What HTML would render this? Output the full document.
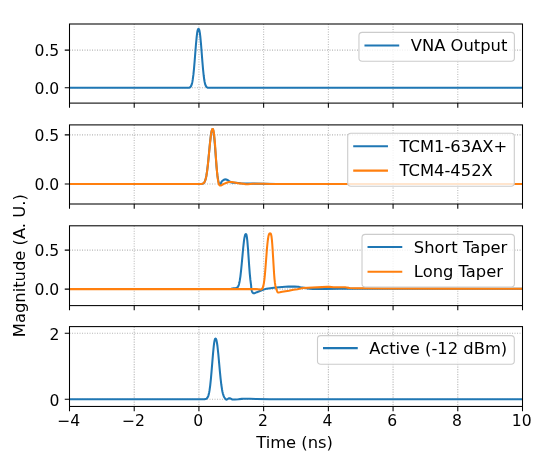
<!DOCTYPE html>
<html><head><meta charset="utf-8"><title>Pulse response plots</title>
<style>html,body{margin:0;padding:0;background:#fff;overflow:hidden;}svg{display:block;}</style>
</head><body>
<svg width="550" height="468" viewBox="0 0 550 468">
<rect width="550" height="468" fill="#fff"/>
<defs>
<clipPath id="c0"><rect x="69.5" y="24.0" width="453.00" height="79.10"/></clipPath>
<clipPath id="c1"><rect x="69.5" y="124.9" width="453.00" height="79.10"/></clipPath>
<clipPath id="c2"><rect x="69.5" y="225.8" width="453.00" height="79.80"/></clipPath>
<clipPath id="c3"><rect x="69.5" y="326.6" width="453.00" height="79.85"/></clipPath>
</defs>
<path d="M134.21 24.00V103.10M198.93 24.00V103.10M263.64 24.00V103.10M328.36 24.00V103.10M393.07 24.00V103.10M457.79 24.00V103.10M69.50 87.80H522.50M69.50 50.10H522.50" stroke="#b8b8b8" stroke-width="1.05" stroke-dasharray="1.05 1.45" fill="none"/>
<polyline points="53.32,87.80 186.34,87.80 188.51,87.75 189.12,87.66 189.64,87.51 190.19,87.19 190.65,86.75 191.07,86.11 191.45,85.25 191.81,84.18 192.17,82.78 192.49,81.17 192.81,79.20 193.40,74.70 194.01,68.61 194.59,61.76 195.95,44.50 196.73,36.30 197.18,32.80 197.60,30.56 197.80,29.85 198.02,29.29 198.25,28.98 198.51,28.88 198.77,28.98 198.99,29.28 199.22,29.85 199.41,30.55 199.83,32.82 200.26,36.06 201.03,44.24 202.42,62.02 203.04,69.23 203.69,75.51 204.30,80.04 204.66,82.03 205.01,83.61 205.40,84.92 205.79,85.88 206.21,86.60 206.69,87.13 207.24,87.47 207.96,87.68 209.09,87.78 211.48,87.80 538.68,87.80" fill="none" stroke="#1f77b4" stroke-width="2.05" stroke-linejoin="round" stroke-linecap="butt" clip-path="url(#c0)"/>
<rect x="358.95" y="32.40" width="155.45" height="28.80" rx="3.27" fill="#fff" fill-opacity="0.8" stroke="#cccccc" stroke-width="1.1"/>
<path d="M365.49 45.40H398.19" stroke="#1f77b4" stroke-width="2.05" stroke-linecap="square"/>
<text x="410.77" y="50.60" font-family="'DejaVu Sans', 'Liberation Sans', sans-serif" font-size="16.35" fill="#000">VNA Output</text>
<rect x="69.5" y="24.0" width="453.00" height="79.10" fill="none" stroke="#000" stroke-width="1.05"/>
<path d="M69.50 103.10v4.75M134.21 103.10v4.75M198.93 103.10v4.75M263.64 103.10v4.75M328.36 103.10v4.75M393.07 103.10v4.75M457.79 103.10v4.75M522.50 103.10v4.75M69.50 87.80h-4.75M69.50 50.10h-4.75" stroke="#000" stroke-width="1.05" fill="none"/>
<text transform="translate(59.3 94.18) scale(1.02 1)" text-anchor="end" font-family="'DejaVu Sans', 'Liberation Sans', sans-serif" font-size="15.3" fill="#000">0.0</text>
<text transform="translate(59.3 56.48) scale(1.02 1)" text-anchor="end" font-family="'DejaVu Sans', 'Liberation Sans', sans-serif" font-size="15.3" fill="#000">0.5</text>
<path d="M134.21 124.90V204.00M198.93 124.90V204.00M263.64 124.90V204.00M328.36 124.90V204.00M393.07 124.90V204.00M457.79 124.90V204.00M69.50 184.00H522.50M69.50 134.85H522.50" stroke="#b8b8b8" stroke-width="1.05" stroke-dasharray="1.05 1.45" fill="none"/>
<polyline points="53.32,184.00 198.70,184.00 201.29,183.94 202.03,183.85 202.65,183.70 203.30,183.39 203.85,182.93 204.33,182.31 204.79,181.48 205.21,180.44 205.63,179.07 206.01,177.47 206.37,175.69 207.05,171.39 207.76,165.60 208.44,159.05 209.99,142.85 210.80,135.79 211.26,132.82 211.71,130.70 211.94,129.99 212.16,129.50 212.39,129.23 212.62,129.15 212.81,129.24 213.00,129.56 213.20,130.12 213.36,130.80 213.72,132.92 214.10,136.18 214.82,144.18 216.53,166.57 217.02,171.73 217.50,175.88 218.05,179.38 218.34,180.76 218.63,181.87 218.96,182.82 219.28,183.52 219.70,184.15 219.90,184.35 220.03,184.40 220.28,184.29 220.54,183.96 221.58,181.79 222.00,181.18 223.10,180.31 223.91,179.79 224.65,179.48 225.33,179.38 225.82,179.42 226.37,179.56 227.89,180.20 228.34,180.50 229.51,181.46 230.93,182.24 231.51,182.42 233.07,182.62 235.78,182.82 240.67,183.27 243.10,183.41 276.59,184.00 538.68,184.00" fill="none" stroke="#1f77b4" stroke-width="2.05" stroke-linejoin="round" stroke-linecap="butt" clip-path="url(#c1)"/>
<polyline points="53.32,184.00 198.70,184.00 201.32,183.94 202.07,183.85 202.68,183.69 203.33,183.37 203.88,182.91 204.40,182.24 204.85,181.38 205.27,180.31 205.69,178.91 206.08,177.29 206.44,175.48 207.11,171.13 207.83,165.32 208.47,159.08 210.03,142.88 210.87,135.54 211.32,132.58 211.77,130.48 212.00,129.76 212.23,129.27 212.45,129.00 212.68,128.92 212.91,129.03 213.10,129.35 213.33,130.02 213.52,130.84 213.94,133.45 214.40,137.39 215.11,145.37 216.08,159.86 216.69,168.09 217.24,174.20 217.76,178.69 218.28,181.91 218.54,183.06 218.83,184.02 219.12,184.68 219.44,185.15 219.80,185.43 220.28,185.57 220.67,185.57 221.13,185.42 222.68,184.51 223.84,183.89 224.94,183.38 226.11,182.94 227.18,182.57 228.05,182.33 229.28,182.10 229.99,182.03 231.32,182.09 233.29,182.27 239.41,183.39 243.32,183.83 245.49,184.12 246.66,184.20 247.95,184.16 252.61,183.85 253.94,183.80 263.29,183.84 270.11,184.00 538.68,184.00" fill="none" stroke="#ff7f0e" stroke-width="2.05" stroke-linejoin="round" stroke-linecap="butt" clip-path="url(#c1)"/>
<rect x="347.70" y="133.30" width="166.60" height="53.00" rx="3.27" fill="#fff" fill-opacity="0.8" stroke="#cccccc" stroke-width="1.1"/>
<path d="M354.24 146.30H386.94" stroke="#1f77b4" stroke-width="2.05" stroke-linecap="square"/>
<text x="399.52" y="152.10" font-family="'DejaVu Sans', 'Liberation Sans', sans-serif" font-size="16.35" fill="#000">TCM1-63AX+</text>
<path d="M354.24 170.60H386.94" stroke="#ff7f0e" stroke-width="2.05" stroke-linecap="square"/>
<text x="399.52" y="175.70" font-family="'DejaVu Sans', 'Liberation Sans', sans-serif" font-size="16.35" fill="#000">TCM4-452X</text>
<rect x="69.5" y="124.9" width="453.00" height="79.10" fill="none" stroke="#000" stroke-width="1.05"/>
<path d="M69.50 204.00v4.75M134.21 204.00v4.75M198.93 204.00v4.75M263.64 204.00v4.75M328.36 204.00v4.75M393.07 204.00v4.75M457.79 204.00v4.75M522.50 204.00v4.75M69.50 184.00h-4.75M69.50 134.85h-4.75" stroke="#000" stroke-width="1.05" fill="none"/>
<text transform="translate(59.3 190.38) scale(1.02 1)" text-anchor="end" font-family="'DejaVu Sans', 'Liberation Sans', sans-serif" font-size="15.3" fill="#000">0.0</text>
<text transform="translate(59.3 141.23) scale(1.02 1)" text-anchor="end" font-family="'DejaVu Sans', 'Liberation Sans', sans-serif" font-size="15.3" fill="#000">0.5</text>
<path d="M134.21 225.80V305.60M198.93 225.80V305.60M263.64 225.80V305.60M328.36 225.80V305.60M393.07 225.80V305.60M457.79 225.80V305.60M69.50 289.10H522.50M69.50 250.10H522.50" stroke="#b8b8b8" stroke-width="1.05" stroke-dasharray="1.05 1.45" fill="none"/>
<polyline points="53.32,289.10 225.91,289.09 228.21,289.05 229.93,288.93 231.16,288.77 233.65,288.35 235.78,288.12 236.43,288.00 237.01,287.75 237.50,287.37 237.95,286.79 238.34,286.06 238.73,285.06 239.08,283.85 239.44,282.32 239.76,280.63 240.41,276.30 241.06,270.74 241.67,264.50 243.16,248.23 243.97,240.91 244.46,237.69 244.91,235.61 245.13,234.92 245.36,234.44 245.62,234.15 245.88,234.07 246.07,234.14 246.27,234.42 246.46,234.95 246.62,235.61 246.98,237.78 247.33,240.91 247.95,248.22 249.21,266.42 249.76,273.57 250.38,279.94 251.12,285.57 251.38,288.97 251.80,290.77 252.06,291.55 252.32,292.13 252.61,292.61 252.90,292.93 253.26,293.18 253.64,293.31 254.16,293.32 254.78,293.17 256.91,292.18 261.12,290.47 264.35,289.38 265.49,289.06 266.52,288.84 273.93,287.68 276.07,287.42 282.09,286.94 288.43,286.60 294.64,286.61 298.04,286.70 298.46,286.78 299.43,287.08 300.59,287.30 304.06,287.79 307.62,288.37 310.08,288.67 312.86,288.89 318.91,288.99 325.12,288.99 339.97,288.80 538.68,288.71" fill="none" stroke="#1f77b4" stroke-width="2.05" stroke-linejoin="round" stroke-linecap="butt" clip-path="url(#c2)"/>
<polyline points="53.32,289.10 256.04,289.10 258.17,289.17 260.31,289.53 260.70,289.53 261.05,289.48 261.54,289.28 261.99,288.93 262.38,288.45 262.74,287.78 263.06,286.93 263.35,285.90 263.90,283.11 264.42,279.29 264.97,273.89 265.49,267.75 266.94,248.94 267.40,244.00 267.82,240.25 268.33,236.85 268.59,235.64 268.85,234.74 269.11,234.11 269.40,233.67 269.73,233.44 270.15,233.38 270.47,233.43 270.73,233.65 270.96,234.09 271.15,234.71 271.54,236.79 271.93,240.16 272.25,243.99 272.57,248.66 274.09,273.70 274.51,279.05 274.94,282.98 275.39,285.74 276.26,288.99 276.88,290.68 277.30,291.68 277.65,292.27 277.94,292.49 278.79,292.46 279.82,292.32 282.22,291.85 288.95,290.69 293.35,289.83 297.55,289.19 299.40,288.72 300.72,288.46 303.22,288.09 307.75,287.75 322.02,287.11 327.35,286.80 329.49,286.86 333.53,287.20 335.22,287.29 345.31,287.31 346.35,287.41 348.84,287.87 349.94,288.00 355.73,288.22 362.53,288.32 384.56,288.45 448.18,288.63 538.68,288.71" fill="none" stroke="#ff7f0e" stroke-width="2.05" stroke-linejoin="round" stroke-linecap="butt" clip-path="url(#c2)"/>
<rect x="362.01" y="234.40" width="152.39" height="52.60" rx="3.27" fill="#fff" fill-opacity="0.8" stroke="#cccccc" stroke-width="1.1"/>
<path d="M368.55 247.00H401.25" stroke="#1f77b4" stroke-width="2.05" stroke-linecap="square"/>
<text x="413.83" y="252.80" font-family="'DejaVu Sans', 'Liberation Sans', sans-serif" font-size="16.35" fill="#000">Short Taper</text>
<path d="M368.55 271.70H401.25" stroke="#ff7f0e" stroke-width="2.05" stroke-linecap="square"/>
<text x="413.83" y="276.80" font-family="'DejaVu Sans', 'Liberation Sans', sans-serif" font-size="16.35" fill="#000">Long Taper</text>
<rect x="69.5" y="225.8" width="453.00" height="79.80" fill="none" stroke="#000" stroke-width="1.05"/>
<path d="M69.50 305.60v4.75M134.21 305.60v4.75M198.93 305.60v4.75M263.64 305.60v4.75M328.36 305.60v4.75M393.07 305.60v4.75M457.79 305.60v4.75M522.50 305.60v4.75M69.50 289.10h-4.75M69.50 250.10h-4.75" stroke="#000" stroke-width="1.05" fill="none"/>
<text transform="translate(59.3 295.48) scale(1.02 1)" text-anchor="end" font-family="'DejaVu Sans', 'Liberation Sans', sans-serif" font-size="15.3" fill="#000">0.0</text>
<text transform="translate(59.3 256.48) scale(1.02 1)" text-anchor="end" font-family="'DejaVu Sans', 'Liberation Sans', sans-serif" font-size="15.3" fill="#000">0.5</text>
<path d="M134.21 326.60V406.45M198.93 326.60V406.45M263.64 326.60V406.45M328.36 326.60V406.45M393.07 326.60V406.45M457.79 326.60V406.45M69.50 399.20H522.50M69.50 333.20H522.50" stroke="#b8b8b8" stroke-width="1.05" stroke-dasharray="1.05 1.45" fill="none"/>
<polyline points="53.32,399.20 202.29,399.20 204.75,399.14 205.46,399.05 206.01,398.90 206.63,398.58 207.15,398.10 207.63,397.41 208.05,396.54 208.47,395.34 208.86,393.87 209.22,392.19 209.57,390.13 210.22,385.35 210.90,378.89 211.52,371.96 213.00,353.81 213.78,345.91 214.23,342.48 214.65,340.25 214.85,339.54 215.07,338.97 215.30,338.67 215.53,338.59 215.79,338.70 216.01,339.01 216.27,339.62 216.50,340.40 216.95,342.64 217.44,346.00 218.28,353.75 219.93,371.96 220.54,378.13 221.32,384.77 222.06,389.72 222.45,391.75 222.87,393.55 223.29,394.98 223.75,396.19 224.26,397.23 225.27,398.73 225.82,399.35 226.08,399.53 226.30,399.61 226.66,399.61 227.05,399.49 228.70,398.44 229.12,398.26 229.47,398.21 229.86,398.27 230.28,398.42 232.06,399.44 232.42,399.56 232.74,399.60 234.88,399.53 238.34,399.29 241.80,398.88 243.26,398.80 249.92,398.81 256.43,399.03 269.60,399.20 538.68,399.20" fill="none" stroke="#1f77b4" stroke-width="2.05" stroke-linejoin="round" stroke-linecap="butt" clip-path="url(#c3)"/>
<rect x="317.49" y="335.60" width="196.81" height="28.60" rx="3.27" fill="#fff" fill-opacity="0.8" stroke="#cccccc" stroke-width="1.1"/>
<path d="M324.03 348.10H356.73" stroke="#1f77b4" stroke-width="2.05" stroke-linecap="square"/>
<text x="369.31" y="353.50" font-family="'DejaVu Sans', 'Liberation Sans', sans-serif" font-size="16.35" fill="#000">Active (-12 dBm)</text>
<rect x="69.5" y="326.6" width="453.00" height="79.85" fill="none" stroke="#000" stroke-width="1.05"/>
<path d="M69.50 406.45v4.75M134.21 406.45v4.75M198.93 406.45v4.75M263.64 406.45v4.75M328.36 406.45v4.75M393.07 406.45v4.75M457.79 406.45v4.75M522.50 406.45v4.75M69.50 399.20h-4.75M69.50 333.20h-4.75" stroke="#000" stroke-width="1.05" fill="none"/>
<text transform="translate(59.3 405.58) scale(1.02 1)" text-anchor="end" font-family="'DejaVu Sans', 'Liberation Sans', sans-serif" font-size="15.3" fill="#000">0</text>
<text transform="translate(59.3 339.58) scale(1.02 1)" text-anchor="end" font-family="'DejaVu Sans', 'Liberation Sans', sans-serif" font-size="15.3" fill="#000">2</text>
<text transform="translate(68.70 425.6) scale(1.02 1)" text-anchor="middle" font-family="'DejaVu Sans', 'Liberation Sans', sans-serif" font-size="15.3" fill="#000">−4</text>
<text transform="translate(133.41 425.6) scale(1.02 1)" text-anchor="middle" font-family="'DejaVu Sans', 'Liberation Sans', sans-serif" font-size="15.3" fill="#000">−2</text>
<text transform="translate(198.13 425.6) scale(1.02 1)" text-anchor="middle" font-family="'DejaVu Sans', 'Liberation Sans', sans-serif" font-size="15.3" fill="#000">0</text>
<text transform="translate(262.84 425.6) scale(1.02 1)" text-anchor="middle" font-family="'DejaVu Sans', 'Liberation Sans', sans-serif" font-size="15.3" fill="#000">2</text>
<text transform="translate(327.56 425.6) scale(1.02 1)" text-anchor="middle" font-family="'DejaVu Sans', 'Liberation Sans', sans-serif" font-size="15.3" fill="#000">4</text>
<text transform="translate(392.27 425.6) scale(1.02 1)" text-anchor="middle" font-family="'DejaVu Sans', 'Liberation Sans', sans-serif" font-size="15.3" fill="#000">6</text>
<text transform="translate(456.99 425.6) scale(1.02 1)" text-anchor="middle" font-family="'DejaVu Sans', 'Liberation Sans', sans-serif" font-size="15.3" fill="#000">8</text>
<text transform="translate(521.70 425.6) scale(1.02 1)" text-anchor="middle" font-family="'DejaVu Sans', 'Liberation Sans', sans-serif" font-size="15.3" fill="#000">10</text>
<text x="294.60" y="448.4" text-anchor="middle" font-family="'DejaVu Sans', 'Liberation Sans', sans-serif" font-size="16.35" fill="#000">Time (ns)</text>
<text transform="translate(25.0 265.7) rotate(-90)" text-anchor="middle" font-family="'DejaVu Sans', 'Liberation Sans', sans-serif" font-size="16.35" fill="#000">Magnitude (A. U.)</text>
</svg>
</body></html>
